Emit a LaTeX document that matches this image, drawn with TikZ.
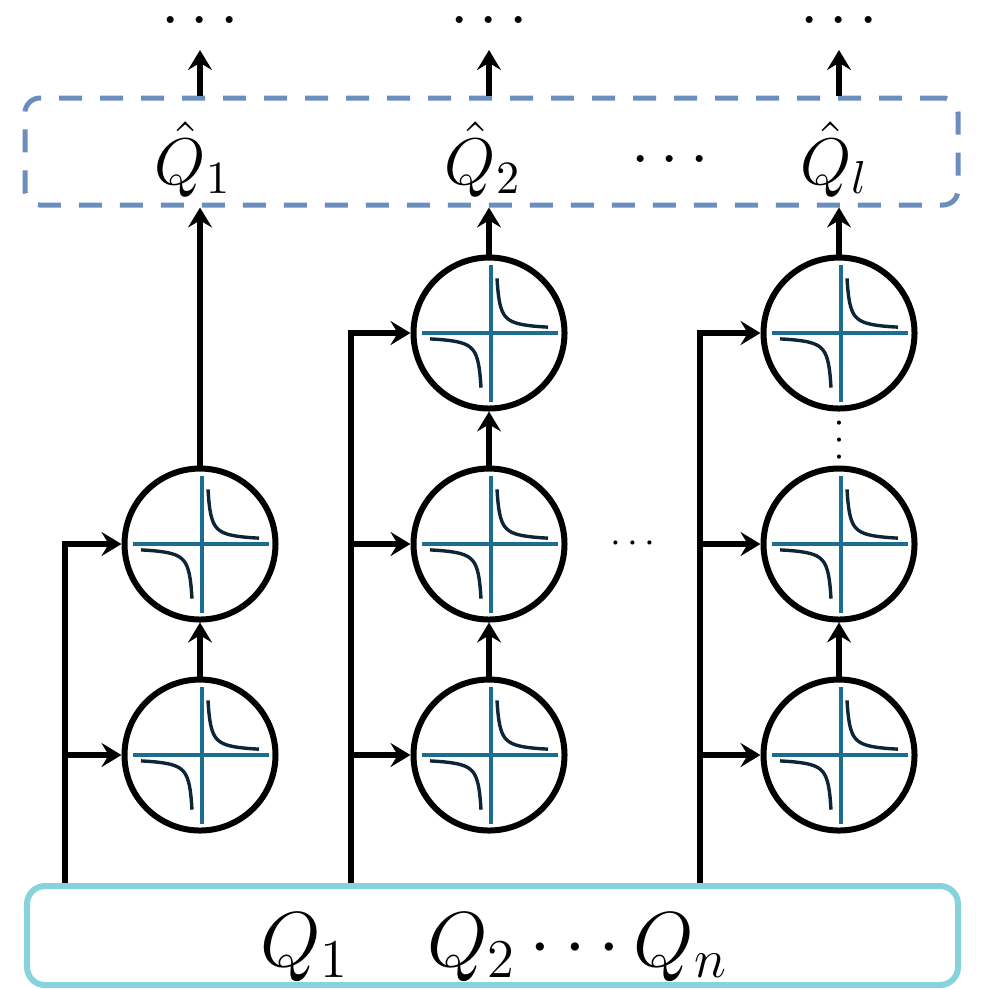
\RequirePackage{fix-cm}
\documentclass[tikz,border=0pt]{standalone}
\usetikzlibrary{arrows.meta}
\definecolor{boxblue}{RGB}{108,142,191}
\definecolor{boxcyan}{RGB}{134,211,220}
\definecolor{crossc}{RGB}{27,110,143}
\definecolor{curvec}{RGB}{12,38,56}
\begin{document}
\begin{tikzpicture}[x=0.25pt,y=-0.25pt,
  neuron/.style={circle,draw,line width=1.5pt,minimum size=37.75pt,inner sep=0pt},
  arr/.style={line width=1.5pt,-{Stealth[length=5pt,width=6pt,inset=1.8pt]}},
  toplab/.style={font=\fontsize{16.5}{19}\selectfont,inner sep=0pt,anchor=base},
  botlab/.style={font=\fontsize{19.5}{23}\selectfont,inner sep=0pt,anchor=base},
  smalldots/.style={font=\fontsize{9.5}{11}\selectfont,inner sep=0pt,anchor=base},
  outbox/.style={draw=boxblue,line width=1.25pt,dash pattern=on 5.75pt off 4.5pt,
    rounded corners=3.75pt,minimum width=233.25pt,minimum height=26.75pt,inner sep=0pt},
  inbox/.style={draw=boxcyan,line width=1.5pt,rounded corners=4.5pt,
    minimum width=232.75pt,minimum height=24.75pt,inner sep=0pt},
  hypicon/.pic={
    \draw[crossc,line width=0.8pt] (-67,0) -- (69,0) (2,-68) -- (2,69);
    \draw[curvec,line width=0.85pt] plot[domain=6:57,samples=80,smooth]
      ({\x+2},{-(3+155/(\x-3))});
    \draw[curvec,line width=0.85pt] plot[domain=6:57,samples=80,smooth]
      ({-\x-2},{3+155/(\x-3)});
  }]
\useasboundingbox (0,0) rectangle (992,988);

% boxes
\node[outbox] (ob) at (491.5,151.5) {};
\node[inbox] (ib) at (492.5,935.5) {};

% neurons
\foreach \n/\xx/\yy in {c11/200/755,c12/200/544,
  c21/489/755,c22/489/544,c23/489/333,
  c31/839/755,c32/839/544,c33/839/333}{
  \node[neuron] (\n) at (\xx,\yy) {};
  \pic at (\n) {hypicon};
}

% labels
\node[toplab] (qh1) at (193,184) {$\hat{Q}_1$};
\node[toplab] (qh2) at (483,184) {$\hat{Q}_2$};
\node[toplab] (qhd) at (670,175) {$\cdots$};
\node[toplab] (qhl) at (834,184) {$\hat{Q}_l$};
\node[botlab] (qin) at (494,966) {$Q_1\quad Q_2\cdots Q_n$};

\node[toplab] (d1) at (200,36) {$\cdots$};
\node[toplab] (d2) at (489,36) {$\cdots$};
\node[toplab] (d3) at (839,36) {$\cdots$};
\node[smalldots] (md) at (633,552.5) {$\cdots$};
\node[smalldots,rotate=90] (vd) at (848.5,440) {$\cdots$};

% coordinates
\coordinate (v1) at (65,883);
\coordinate (v2) at (351,883);
\coordinate (v3) at (700,883);
\coordinate (t1) at (200,50);
\coordinate (t2) at (489,50);
\coordinate (t3) at (839,50);

% input feeds
\draw[arr] (v1) |- (c12.west);
\draw[arr] (v1 |- c11.west) -- (c11.west);
\draw[arr] (v2) |- (c23.west);
\draw[arr] (v2 |- c22.west) -- (c22.west);
\draw[arr] (v2 |- c21.west) -- (c21.west);
\draw[arr] (v3) |- (c33.west);
\draw[arr] (v3 |- c32.west) -- (c32.west);
\draw[arr] (v3 |- c31.west) -- (c31.west);

% stacks
\draw[arr] (c11.north) -- (c12.south);
\draw[arr] (c21.north) -- (c22.south);
\draw[arr] (c22.north) -- (c23.south);
\draw[arr] (c31.north) -- (c32.south);

% to outputs
\draw[arr] (c12.north) -- (c12 |- ob.south);
\draw[arr] (c23.north) -- (c23 |- ob.south);
\draw[arr] (c33.north) -- (c33 |- ob.south);
\draw[arr] (t1 |- ob.north) -- (t1);
\draw[arr] (t2 |- ob.north) -- (t2);
\draw[arr] (t3 |- ob.north) -- (t3);
\end{tikzpicture}
\end{document}
